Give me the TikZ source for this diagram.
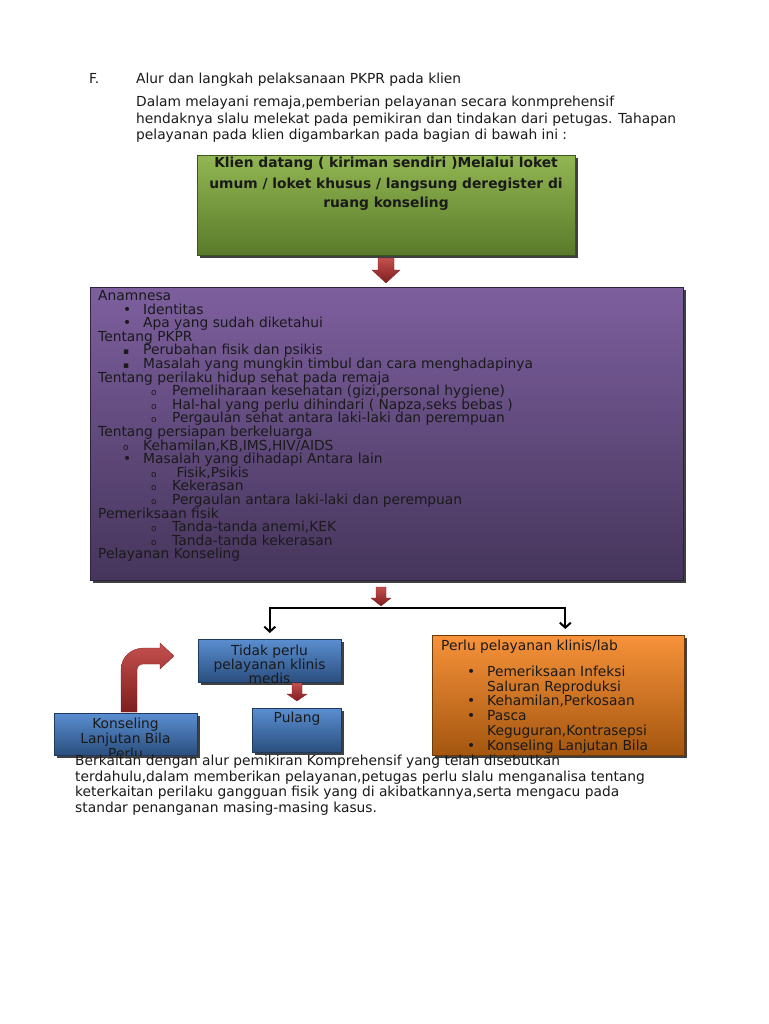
\documentclass[tikz,border=0pt]{standalone}
\usepackage{fontspec}
\setmainfont{DejaVu Sans}
\usetikzlibrary{shadows,arrows.meta}
\definecolor{grtop}{HTML}{92B652}
\definecolor{grbot}{HTML}{5A7A2A}
\definecolor{grline}{HTML}{3E5420}
\definecolor{putop}{HTML}{7D5F9E}
\definecolor{pubot}{HTML}{45355B}
\definecolor{puline}{HTML}{2E2240}
\definecolor{bltop}{HTML}{5A8ED0}
\definecolor{blbot}{HTML}{2A4E7E}
\definecolor{blline}{HTML}{1E3A60}
\definecolor{ortop}{HTML}{F7923A}
\definecolor{orbot}{HTML}{A4560F}
\definecolor{orline}{HTML}{6E3A08}
\definecolor{rdtop}{HTML}{C4504E}
\definecolor{rdbot}{HTML}{7E1E1E}
\definecolor{ink}{HTML}{1A1A1A}
\begin{document}
\begin{tikzpicture}[x=1pt,y=-1pt,
  txt/.style={anchor=base west, inner sep=0pt, text=ink, font=\fontsize{13.8}{16.5}\selectfont},
  ptx/.style={anchor=base west, inner sep=0pt, text=ink, font=\fontsize{13.8}{13.6}\selectfont},
  otx/.style={anchor=base west, inner sep=0pt, text=ink, font=\fontsize{13.8}{14.7}\selectfont},
  btx/.style={anchor=base, inner sep=0pt, text=ink, font=\fontsize{13.8}{14}\selectfont},
  gtx/.style={anchor=base, inner sep=0pt, text=ink, font=\fontsize{13.8}{20}\selectfont\bfseries},
  boxbase/.style={anchor=north west, inner sep=0pt, line width=0.6pt,
     drop shadow={shadow xshift=2.5pt, shadow yshift=-2.5pt, fill=black, opacity=0.75}},
  greenbox/.style={boxbase, draw=grline, top color=grtop, bottom color=grbot},
  purplebox/.style={boxbase, draw=puline, top color=putop, bottom color=pubot},
  bluebox/.style={boxbase, draw=blline, top color=bltop, bottom color=blbot},
  orangebox/.style={boxbase, draw=orline, top color=ortop, bottom color=orbot},
  redarrow/.style={top color=rdtop, bottom color=rdbot, draw=rdbot, line width=0.3pt},
  conn/.style={draw=black, line width=2pt, {Straight Barb[length=5pt,width=11pt]}-{Straight Barb[length=5pt,width=11pt]}, shorten <=6pt, shorten >=6pt}
]
\useasboundingbox[fill=white] (0,0) rectangle (768,1024);

% heading
\node[txt] (hf) at (89,84) {F.};
\node[txt] (ht) at (136,84) {Alur dan langkah pelaksanaan PKPR pada klien};
\node[txt] (i1) at (136,107) {Dalam melayani remaja,pemberian pelayanan secara konmprehensif};
\node[txt] (i2) at (136,123.5) {hendaknya slalu melekat pada pemikiran dan tindakan dari petugas. Tahapan};
\node[txt] (i3) at (136,140) {pelayanan pada klien digambarkan pada bagian di bawah ini :};

% green box
\node[greenbox, minimum width=378pt, minimum height=100pt] (klien) at (197,155) {};
\node[gtx] (k1) at (386,168) {Klien datang ( kiriman sendiri )Melalui loket};
\node[gtx] (k2) at (386,188.5) {umum / loket khusus / langsung deregister di};
\node[gtx] (k3) at (386,208) {ruang konseling};

% arrow 1
\shade[redarrow] (378,258) -- (394,258) -- (394,270) -- (400,270) -- (386,283) -- (372,270) -- (378,270) -- cycle;

% purple box
\node[purplebox, minimum width=593pt, minimum height=293pt] (pkpr) at (90,287) {};
\node[ptx] (p1)  at (98,300.5)    {Anamnesa};
\node[ptx] (p2)  at (123,314.1) {\makebox[20pt][l]{•}Identitas};
\node[ptx] (p3)  at (123,327.7) {\makebox[20pt][l]{•}Apa yang sudah diketahui};
\node[ptx] (p4)  at (98,341.3)  {Tentang PKPR};
\node[ptx] (p5)  at (123,354.9) {\makebox[20pt][l]{\fontsize{9}{9}\selectfont▪}Perubahan fisik dan psikis};
\node[ptx] (p6)  at (123,368.5)   {\makebox[20pt][l]{\fontsize{9}{9}\selectfont▪}Masalah yang mungkin timbul dan cara menghadapinya};
\node[ptx] (p7)  at (98,382.1)  {Tentang perilaku hidup sehat pada remaja};
\node[ptx] (p8)  at (151,395.7) {\makebox[21pt][l]{\fontsize{9}{9}\selectfont o}Pemeliharaan kesehatan (gizi,personal hygiene)};
\node[ptx] (p9)  at (151,409.3) {\makebox[21pt][l]{\fontsize{9}{9}\selectfont o}Hal-hal yang perlu dihindari ( Napza,seks bebas )};
\node[ptx] (p10) at (151,422.9) {\makebox[21pt][l]{\fontsize{9}{9}\selectfont o}Pergaulan sehat antara laki-laki dan perempuan};
\node[ptx] (p11) at (98,436.5)    {Tentang persiapan berkeluarga};
\node[ptx] (p12) at (123,450.1) {\makebox[20pt][l]{\fontsize{9}{9}\selectfont o}Kehamilan,KB,IMS,HIV/AIDS};
\node[ptx] (p13) at (123,463.7) {\makebox[20pt][l]{•}Masalah yang dihadapi Antara lain};
\node[ptx] (p14) at (151,477.3) {\makebox[21pt][l]{\fontsize{9}{9}\selectfont o}\ Fisik,Psikis};
\node[ptx] (p15) at (151,490.9) {\makebox[21pt][l]{\fontsize{9}{9}\selectfont o}Kekerasan};
\node[ptx] (p16) at (151,504.5)   {\makebox[21pt][l]{\fontsize{9}{9}\selectfont o}Pergaulan antara laki-laki dan perempuan};
\node[ptx] (p17) at (98,518.1)  {Pemeriksaan fisik};
\node[ptx] (p18) at (151,531.7) {\makebox[21pt][l]{\fontsize{9}{9}\selectfont o}Tanda-tanda anemi,KEK};
\node[ptx] (p19) at (151,545.3) {\makebox[21pt][l]{\fontsize{9}{9}\selectfont o}Tanda-tanda kekerasan};
\node[ptx] (p20) at (98,558.9)  {Pelayanan Konseling};

% arrow 2
\shade[redarrow] (376,587) -- (386,587) -- (386,598) -- (391,598) -- (381,606) -- (371,598) -- (376,598) -- cycle;

% lower boxes
\node[bluebox, minimum width=143pt, minimum height=43pt] (tidak) at (198,639) {};
\node[bluebox, minimum width=89pt, minimum height=44pt] (pulang) at (252,708) {};
\node[bluebox, minimum width=143pt, minimum height=42pt] (konsel) at (54,713) {};
\node[orangebox, minimum width=252pt, minimum height=120pt] (perlu) at (432,635) {};

% connector
\coordinate (j) at (381,608);
\draw[conn] (tidak.north) |- (j) -| ([xshift=7pt]perlu.north);

% texts in blue boxes (clipped)
\begin{scope}
\clip (tidak.south west) rectangle (tidak.north east);
\node[btx] (t1) at (269.5,655) {Tidak perlu};
\node[btx] (t2) at (269.5,669) {pelayanan klinis};
\node[btx] (t3) at (269.5,683) {medis};
\end{scope}
\node[btx] (pl1) at (297,722.5) {Pulang};
\begin{scope}
\clip (konsel.south west) rectangle (konsel.north east);
\node[btx] (c1) at (125.5,728) {Konseling};
\node[btx] (c2) at (125.5,743) {Lanjutan Bila};
\node[btx] (c3) at (125.5,758) {Perlu};
\end{scope}

% arrow 3
\shade[redarrow] (292,683) -- (302,683) -- (302,694) -- (307,694) -- (297,701) -- (287,694) -- (292,694) -- cycle;

% curved arrow
\shade[redarrow] (121,712) -- (121,670) .. controls (121,657) and (131,648) .. (144,648)
  -- (160,648) -- (160,643) -- (174,656) -- (160,669) -- (160,664) -- (143,664)
  .. controls (139.5,664) and (137,666.5) .. (137,670) -- (137,712) -- cycle;

% orange text
\node[otx] (o0) at (441,650) {Perlu pelayanan klinis/lab};
\node[otx] (o1) at (467,676) {\makebox[20pt][l]{•}Pemeriksaan Infeksi};
\node[otx] (o2) at (487,691) {Saluran Reproduksi};
\node[otx] (o3) at (467,705) {\makebox[20pt][l]{•}Kehamilan,Perkosaan};
\node[otx] (o4) at (467,720) {\makebox[20pt][l]{•}Pasca};
\node[otx] (o5) at (487,735) {Keguguran,Kontrasepsi};
\node[otx] (o6) at (467,750) {\makebox[20pt][l]{•}Konseling Lanjutan Bila};

% closing paragraph
\node[txt] (b1) at (75,765.5) {Berkaitan dengan alur pemikiran Komprehensif yang telah disebutkan};
\node[txt] (b2) at (75,781) {terdahulu,dalam memberikan pelayanan,petugas perlu slalu menganalisa tentang};
\node[txt] (b3) at (75,796.5) {keterkaitan perilaku gangguan fisik yang di akibatkannya,serta mengacu pada};
\node[txt] (b4) at (75,812) {standar penanganan masing-masing kasus.};
\end{tikzpicture}
\end{document}
